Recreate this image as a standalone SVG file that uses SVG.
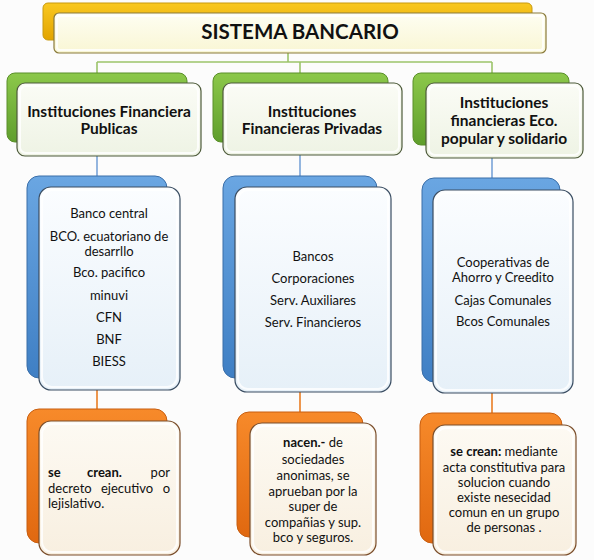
<svg xmlns="http://www.w3.org/2000/svg" width="594" height="560" viewBox="0 0 594 560">
<defs>
<linearGradient id="gY" x1="0" y1="0" x2="0" y2="1"><stop offset="0" stop-color="#f9c820"/><stop offset="1" stop-color="#e2a400"/></linearGradient>
<linearGradient id="gG" x1="0" y1="0" x2="0" y2="1"><stop offset="0" stop-color="#8cc84a"/><stop offset="1" stop-color="#5f9e2c"/></linearGradient>
<linearGradient id="gB" x1="0" y1="0" x2="0" y2="1"><stop offset="0" stop-color="#6aa6e2"/><stop offset="1" stop-color="#3f7fc4"/></linearGradient>
<linearGradient id="gO" x1="0" y1="0" x2="0" y2="1"><stop offset="0" stop-color="#f78a2a"/><stop offset="1" stop-color="#e06810"/></linearGradient>
<linearGradient id="fY" x1="0" y1="0" x2="0" y2="1"><stop offset="0" stop-color="#fefef2"/><stop offset="1" stop-color="#f9f6d4"/></linearGradient>
<linearGradient id="fG" x1="0" y1="0" x2="0" y2="1"><stop offset="0" stop-color="#fbfcf6"/><stop offset="1" stop-color="#eef3e4"/></linearGradient>
<linearGradient id="fB" x1="0" y1="0" x2="0" y2="1"><stop offset="0" stop-color="#fbfdff"/><stop offset="1" stop-color="#e6f0f8"/></linearGradient>
<linearGradient id="fO" x1="0" y1="0" x2="0" y2="1"><stop offset="0" stop-color="#fdfaf3"/><stop offset="1" stop-color="#f8efe0"/></linearGradient>
</defs>
<style>
.t{font-family:Lato,"Open Sans","Liberation Sans",sans-serif;fill:#111;text-anchor:middle}
.h{font-size:15.5px;font-weight:bold}
.n{font-size:13px}
.b{font-weight:bold}
.hi{fill:none;stroke:#ffffff;stroke-width:2;opacity:0.8}
.by{fill:url(#gY);stroke:#c89a10;stroke-width:1}
.bg{fill:url(#gG);stroke:#5a8f2a;stroke-width:1}
.bb{fill:url(#gB);stroke:#3a6ea8;stroke-width:1}
.bo{fill:url(#gO);stroke:#c85e10;stroke-width:1}
.fy{fill:url(#fY);stroke:#8a7a3a;stroke-width:1.2}
.fg{fill:url(#fG);stroke:#4d5a3a;stroke-width:1.2}
.fb{fill:url(#fB);stroke:#3a4d62;stroke-width:1.2}
.fo{fill:url(#fO);stroke:#7a4d2a;stroke-width:1.2}
.cg{stroke:#9cc46a;stroke-width:1.6;fill:none}
.cb{stroke:#7aa4d8;stroke-width:1.6;fill:none}
.co{stroke:#ec8c3c;stroke-width:1.8;fill:none}
</style>
<rect width="594" height="560" fill="#fcfcfc"/>
<g id="connectors">
<path class="cg" d="M288 53V62M97 62H492M97 62V73M300 62V73M492 62V73"/>
<path class="cb" d="M97 156V176M300 155V176M492 158V178"/>
<path class="co" d="M97 390V409M300 392V412M492 393V413"/>
</g>
<g id="sistema">
<rect class="by" x="43" y="3" width="489" height="37" rx="5"/>
<rect class="fy" x="54" y="13" width="492" height="40" rx="5"/>
<rect class="hi" x="57" y="16" width="486" height="34" rx="3"/>
<text class="t b" x="300" y="39" font-size="20.5">SISTEMA BANCARIO</text>
</g>
<g id="publicas">
<rect class="bg" x="7" y="73" width="180" height="69" rx="8"/>
<rect class="fg" x="17" y="83" width="184" height="73" rx="8"/>
<rect class="hi" x="20" y="86" width="178" height="67" rx="6"/>
<text class="t h" x="109" y="117">Instituciones Financiera</text>
<text class="t h" x="109" y="134">Publicas</text>
</g>
<g id="privadas">
<rect class="bg" x="213" y="73" width="175" height="69" rx="8"/>
<rect class="fg" x="223" y="83" width="179" height="72" rx="8"/>
<rect class="hi" x="226" y="86" width="173" height="66" rx="6"/>
<text class="t h" x="312" y="117">Instituciones</text>
<text class="t h" x="312" y="134">Financieras Privadas</text>
</g>
<g id="popular">
<rect class="bg" x="413" y="73" width="156" height="72" rx="8"/>
<rect class="fg" x="426" y="83" width="157" height="75" rx="8"/>
<rect class="hi" x="429" y="86" width="151" height="69" rx="6"/>
<text class="t h" x="504" y="108">Instituciones</text>
<text class="t h" x="504" y="126">financieras Eco.</text>
<text class="t h" x="504" y="144">popular y solidario</text>
</g>
<g id="lista-publicas">
<rect class="bb" x="27" y="176" width="140" height="202" rx="12"/>
<rect class="fb" x="39" y="187" width="141" height="203" rx="12"/>
<rect class="hi" x="42" y="190" width="135" height="197" rx="10"/>
<text class="t n" x="109" y="218">Banco central</text>
<text class="t n" x="109" y="241">BCO. ecuatoriano de</text>
<text class="t n" x="109" y="256">desarrllo</text>
<text class="t n" x="109" y="277">Bco. pacifico</text>
<text class="t n" x="109" y="300">minuvi</text>
<text class="t n" x="109" y="322">CFN</text>
<text class="t n" x="109" y="344">BNF</text>
<text class="t n" x="109" y="366">BIESS</text>
</g>
<g id="lista-privadas">
<rect class="bb" x="223" y="176" width="154" height="202" rx="12"/>
<rect class="fb" x="235" y="187" width="156" height="205" rx="12"/>
<rect class="hi" x="238" y="190" width="150" height="199" rx="10"/>
<text class="t n" x="313" y="261">Bancos</text>
<text class="t n" x="313" y="283">Corporaciones</text>
<text class="t n" x="313" y="305">Serv. Auxiliares</text>
<text class="t n" x="313" y="327">Serv. Financieros</text>
</g>
<g id="lista-popular">
<rect class="bb" x="422" y="178" width="138" height="204" rx="12"/>
<rect class="fb" x="433" y="190" width="140" height="203" rx="12"/>
<rect class="hi" x="436" y="193" width="134" height="197" rx="10"/>
<text class="t n" x="503" y="267">Cooperativas de</text>
<text class="t n" x="503" y="282">Ahorro y Creedito</text>
<text class="t n" x="503" y="305">Cajas Comunales</text>
<text class="t n" x="503" y="326">Bcos Comunales</text>
</g>
<g id="origen-publicas">
<rect class="bo" x="27" y="409" width="140" height="134" rx="12"/>
<rect class="fo" x="39" y="421" width="141" height="134" rx="12"/>
<rect class="hi" x="42" y="424" width="135" height="128" rx="10"/>
<text class="t n" y="477"><tspan class="b" x="48" text-anchor="start">se</tspan><tspan class="b" x="87" text-anchor="start">crean.</tspan><tspan x="170" text-anchor="end">por</tspan></text>
<text class="t n" y="493"><tspan x="48" text-anchor="start">decreto</tspan><tspan x="101" text-anchor="start">ejecutivo</tspan><tspan x="170" text-anchor="end">o</tspan></text>
<text class="t n" x="48" y="508" style="text-anchor:start">lejislativo.</text>
</g>
<g id="origen-privadas">
<rect class="bo" x="237" y="412" width="126" height="125" rx="12"/>
<rect class="fo" x="250" y="423" width="126" height="132" rx="12"/>
<rect class="hi" x="253" y="426" width="120" height="126" rx="10"/>
<text class="t n" x="313" y="447"><tspan class="b">nacen.-</tspan> de</text>
<text class="t n" x="313" y="464">sociedades</text>
<text class="t n" x="313" y="480">anonimas, se</text>
<text class="t n" x="313" y="496">aprueban por la</text>
<text class="t n" x="313" y="511">super de</text>
<text class="t n" x="313" y="527">compañias y sup.</text>
<text class="t n" x="313" y="542">bco y seguros.</text>
</g>
<g id="origen-popular">
<rect class="bo" x="420" y="413" width="142" height="130" rx="12"/>
<rect class="fo" x="433" y="425" width="143" height="130" rx="12"/>
<rect class="hi" x="436" y="428" width="137" height="124" rx="10"/>
<text class="t n" x="504" y="456"><tspan class="b">se crean:</tspan> mediante</text>
<text class="t n" x="504" y="472">acta constitutiva para</text>
<text class="t n" x="504" y="487">solucion cuando</text>
<text class="t n" x="504" y="502">existe nesecidad</text>
<text class="t n" x="504" y="517">comun en un grupo</text>
<text class="t n" x="504" y="532">de personas .</text>
</g>
</svg>
